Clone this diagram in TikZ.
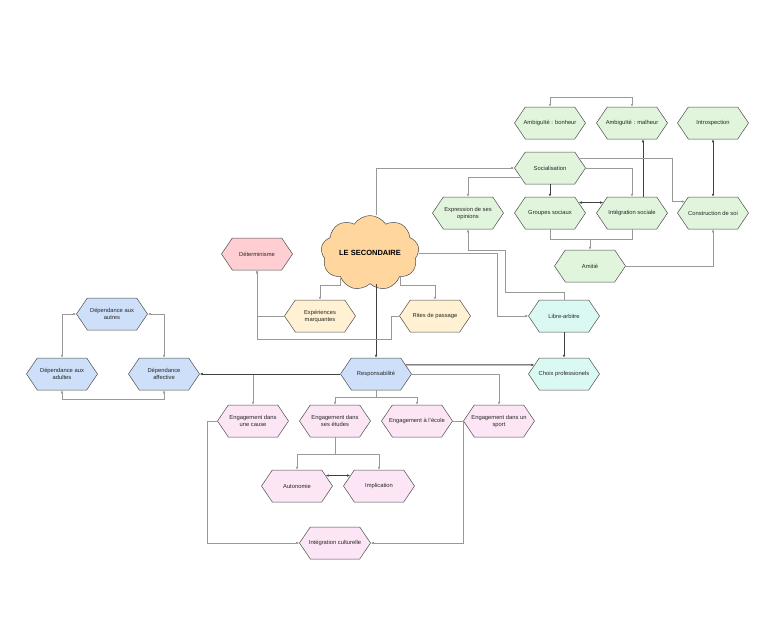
\documentclass[tikz,border=0pt]{standalone}
\usepackage{fontspec}
\setmainfont{Liberation Sans}
\usepackage{tikz}
\usetikzlibrary{shapes.symbols,arrows.meta,calc}
\tikzset{>={Latex[length=3pt,width=2.6pt]}}
\definecolor{hexgreen}{RGB}{224,245,220}
\definecolor{hexblue}{RGB}{205,223,249}
\definecolor{hexpink}{RGB}{252,229,245}
\definecolor{hexred}{RGB}{255,206,211}
\definecolor{hexcream}{RGB}{255,241,210}
\definecolor{hexcyan}{RGB}{219,249,243}
\definecolor{cloudorange}{RGB}{254,214,158}
\tikzset{
  hexa/.style={signal, signal to=east and west, signal pointer angle=112, draw=black!70, line width=0.5pt, minimum width=71pt, minimum height=32pt, inner xsep=-9pt, inner ysep=1pt, align=center, text=black!85, font=\fontsize{5.8}{7}\selectfont},
  greenhex/.style={hexa, fill=hexgreen},
  bluehex/.style={hexa, fill=hexblue},
  pinkhex/.style={hexa, fill=hexpink},
  redhex/.style={hexa, fill=hexred},
  creamhex/.style={hexa, fill=hexcream},
  cyanhex/.style={hexa, fill=hexcyan},
  link/.style={draw=black!40, line width=0.5pt},
  strong/.style={draw=black!75, line width=0.9pt},
}
\begin{document}
\begin{tikzpicture}[x=1pt,y=-1pt]
\useasboundingbox (0,0) rectangle (768,640);
\node (bonheur) at (550,123) [greenhex] {Ambiguïté : bonheur};
\node (malheur) at (632,123) [greenhex] {Ambiguïté : malheur};
\node (intro) at (713,123) [greenhex] {Introspection};
\node (social) at (550,168) [greenhex] {Socialisation};
\node (opinion) at (468,213) [greenhex] {Expression de ses\\opinions};
\node (groupes) at (550,213) [greenhex] {Groupes sociaux};
\node (integ) at (632,213) [greenhex] {Intégration sociale};
\node (soi) at (713,213) [greenhex] {Construction de soi};
\node (amitie) at (590,266) [greenhex] {Amitié};
\node (second) at (370,253) [cloud, cloud puffs=9, cloud puff arc=115, aspect=1.4, draw=black!70, line width=0.5pt, fill=cloudorange, minimum width=98pt, minimum height=68pt, inner sep=0pt, font=\fontsize{7.5}{9}\selectfont\bfseries] {LE SECONDAIRE};
\node (determ) at (257,254) [redhex] {Déterminisme};
\node (exper) at (320,316) [creamhex] {Expériences\\marquantes};
\node (rites) at (435,316) [creamhex] {Rites de passage};
\node (libre) at (564,316) [cyanhex] {Libre-arbitre};
\node (respo) at (376,374) [bluehex] {Responsabilité};
\node (choix) at (564,374) [cyanhex] {Choix professionels};
\node (autres) at (112,314) [bluehex] {Dépendance aux\\autres};
\node (adultes) at (62,374) [bluehex] {Dépendance aux\\adultes};
\node (affect) at (164,374) [bluehex] {Dépendance\\affective};
\node (cause) at (253,421) [pinkhex] {Engagement dans\\une cause};
\node (etudes) at (335,421) [pinkhex] {Engagement dans\\ses études};
\node (ecole) at (417,421) [pinkhex] {Engagement à l'école};
\node (sport) at (499,421) [pinkhex] {Engagement dans un\\sport};
\node (autonomie) at (297,486) [pinkhex] {Autonomie};
\node (implic) at (379,486) [pinkhex] {Implication};
\node (culture) at (335,543) [pinkhex] {Intégration culturelle};
\coordinate (amitj) at (590,239);
\draw[link,<->] (bonheur.north) -- (bonheur.north |- 0,97) -| (malheur.north);
\draw[strong,->] ([xshift=11pt]integ.north) -- ([xshift=11pt]integ.north |- malheur.south);
\draw[strong,<->] (soi.north) -- (intro.south);
\draw[link,->] ([xshift=6pt]second.north) |- (social.west);
\draw[link,->] (social.19) -| ([xshift=-13pt]soi.158) -- (soi.158);
\draw[link,->] (social.east) -| (integ.north);
\draw[strong,->] (social.south) -- (groupes.north);
\draw[link,->] (social.197) -| (opinion.north);
\draw[strong,<->] (groupes.20) -- (integ.160);
\draw[link] (groupes.south) |- (amitj);
\draw[link] (integ.south) |- (amitj);
\draw[link,->] (amitj) -- (amitie.north);
\draw[link,->] (amitie.east) -| (soi.south);
\draw[link,->] (libre.north) |- (505,292) |- (468,250) -- (opinion.south);
\draw[link,->] (second.east) -| (497,316) -- (libre.west);
\draw[link,->] (second.-38) -- ++(0,8) -| (rites.north);
\draw[link,->] (second.-140) -- ++(0,8) -| (exper.north);
\draw[strong,->] (second.south -| respo.north) -- (respo.north);
\draw[link,->] (exper.west) -| (determ.south);
\draw[link,->] (rites.west) -- ++(-8,0) -- ++(0,23) -| (determ.south);
\draw[link,->] (respo.west) -| (cause.north);
\draw[strong,->] (respo.west) -- (affect.east);
\draw[strong,->] (respo.17) -- (choix.163);
\draw[strong,->] (libre.south) -- (choix.north);
\draw[link,->] (respo.east) -| (sport.north);
\draw[link,->] (respo.south) -- ++(0,7) -| (etudes.north);
\draw[link,->] (respo.south) -- ++(0,7) -| (ecole.north);
\draw[link,->] (etudes.south) -- ++(0,17) -| (autonomie.north);
\draw[link,->] (etudes.south) -- ++(0,17) -| (implic.north);
\draw[strong,<->] (autonomie.20) -- (implic.160);
\draw[link,->] (cause.west) -- ++(-10,0) |- (culture.west);
\draw[link,->] (ecole.east) -- ++(10,0) |- (culture.east);
\draw[link,<->] (autres.west) -| (adultes.north);
\draw[link,<->] (autres.east) -| (affect.north);
\draw[link,<->] (adultes.south) -- ++(0,9) -| (affect.south);
\end{tikzpicture}
\end{document}
